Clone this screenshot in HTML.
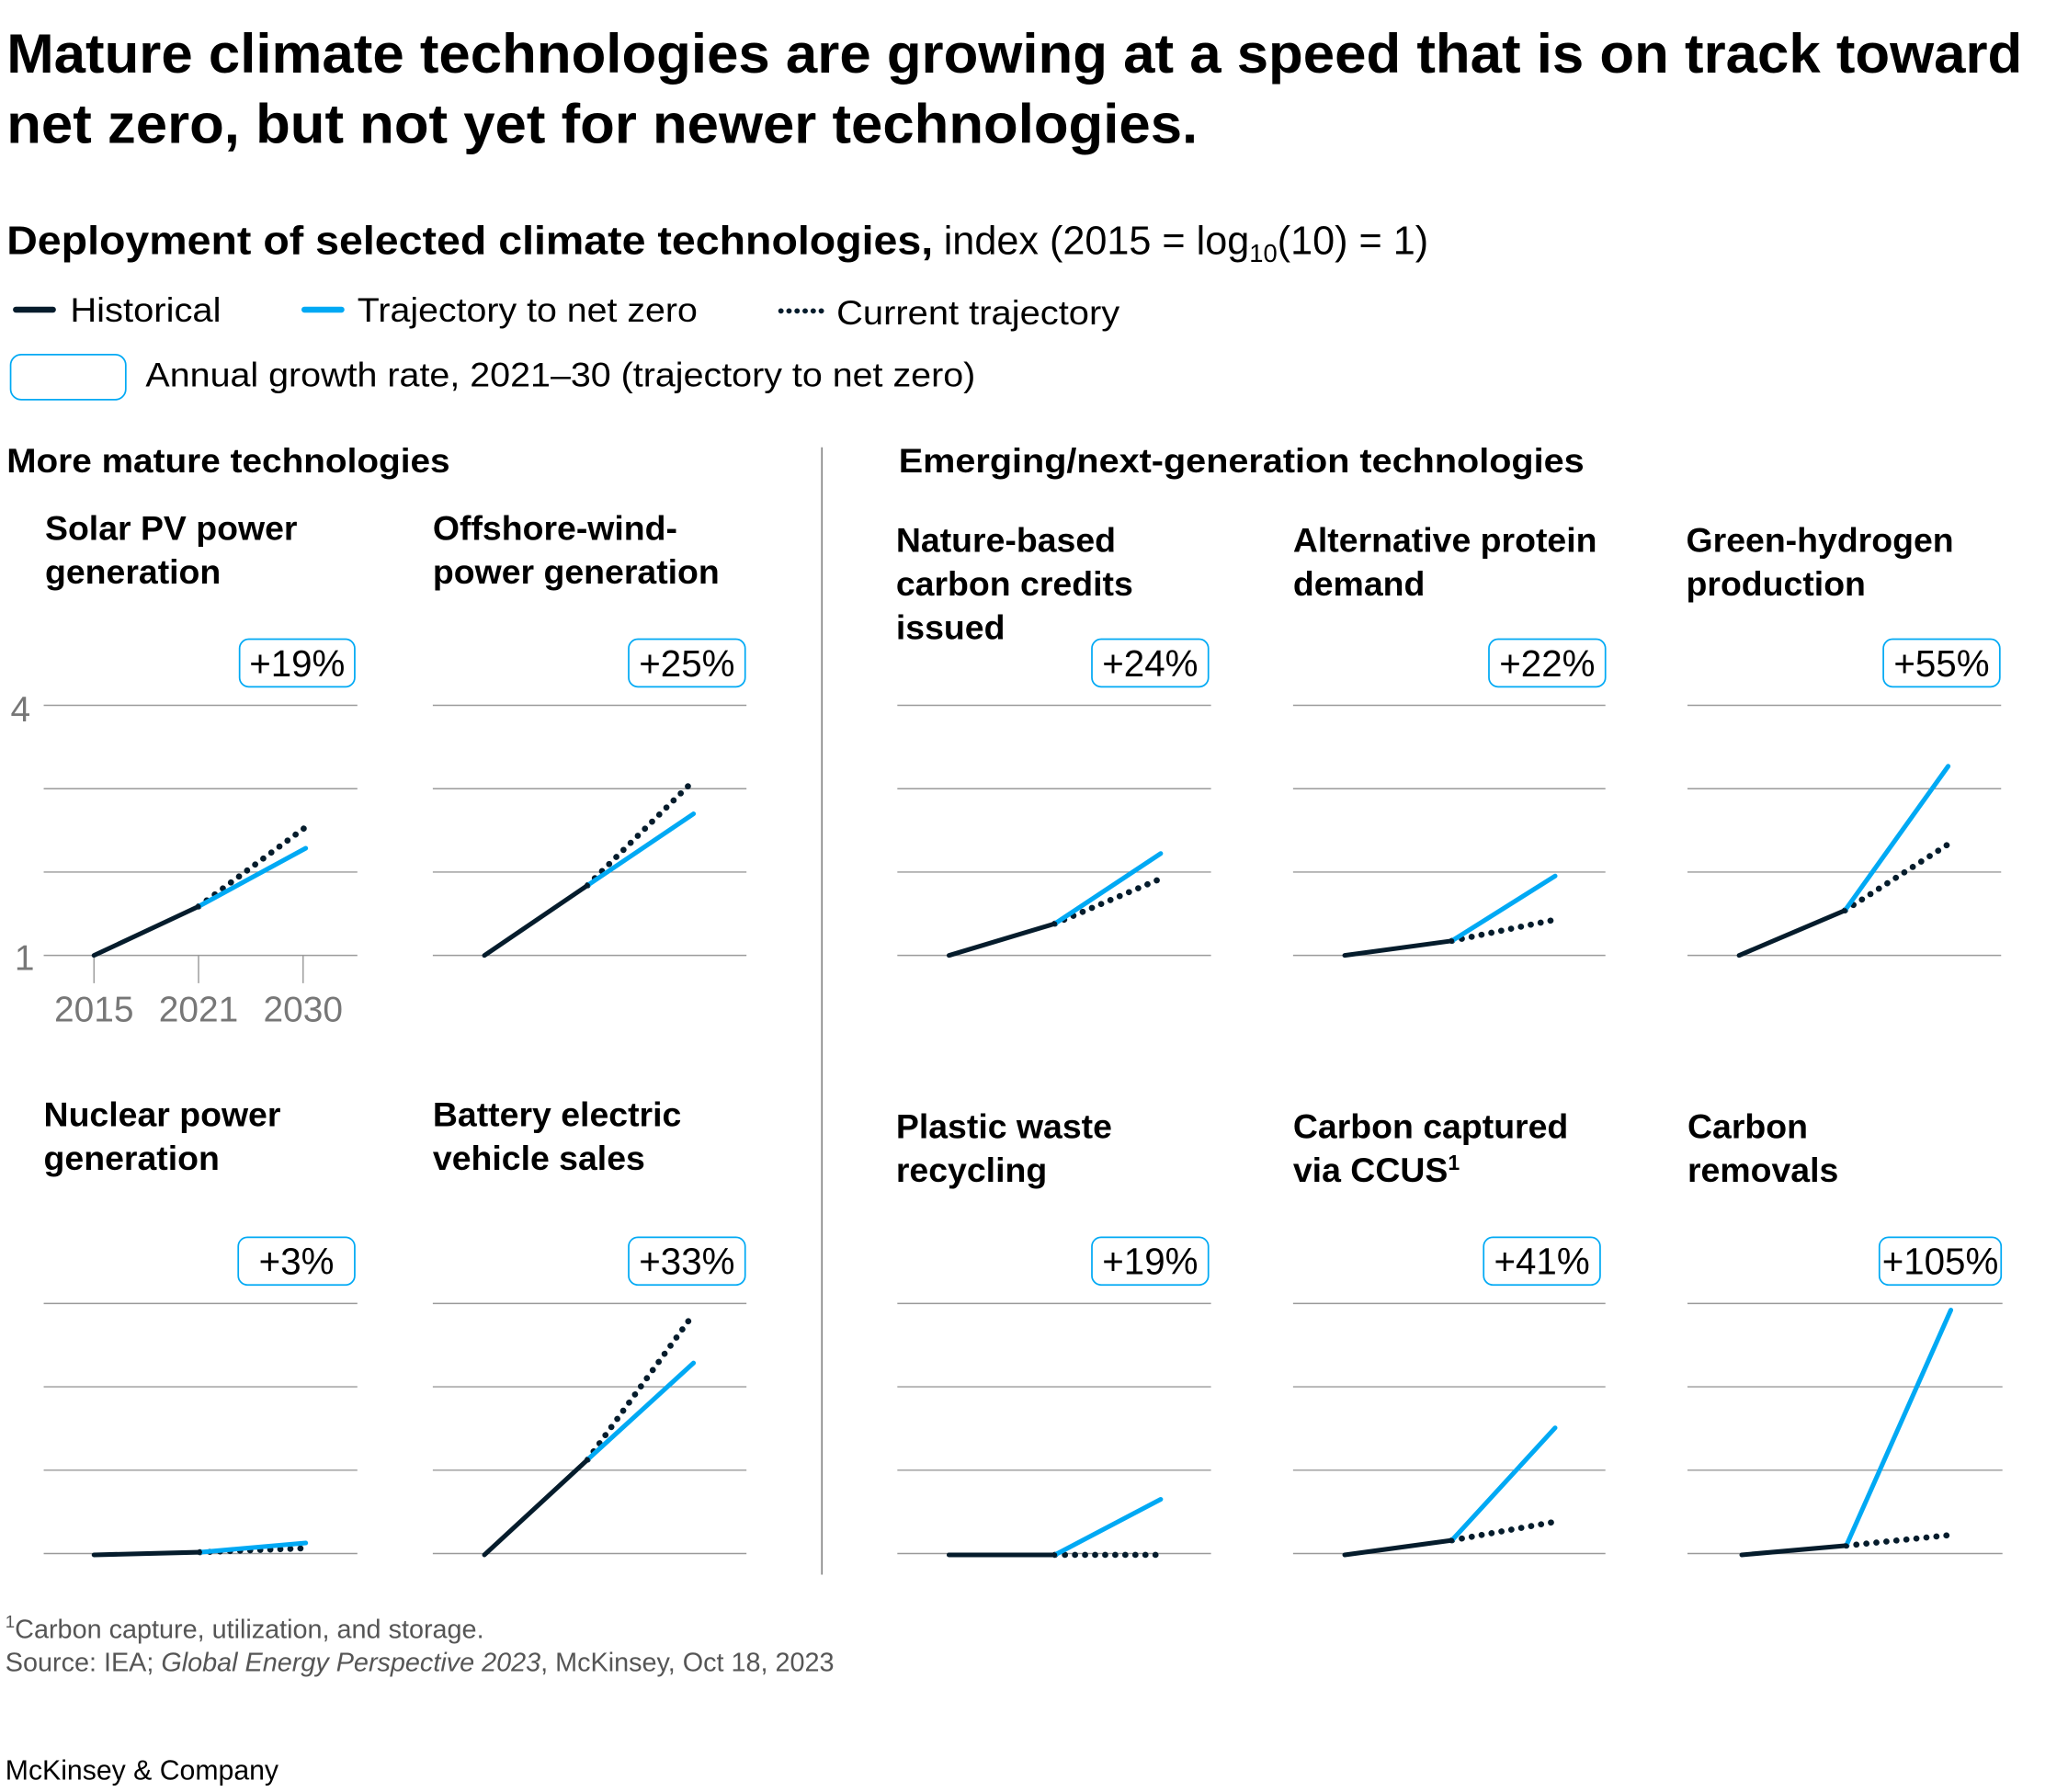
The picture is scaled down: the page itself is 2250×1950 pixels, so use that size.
<!DOCTYPE html>
<html><head><meta charset="utf-8"><style>
html,body{margin:0;padding:0;background:#fff}
svg{display:block}
text{font-family:"Liberation Sans",Arial,sans-serif}
.t{font-weight:bold;fill:#000}
.g{stroke:#9a9a9a;stroke-width:1}
.h{stroke:#051c2c;stroke-width:3.5;stroke-linecap:round;fill:none}
.b{stroke:#00a9f4;stroke-width:3.5;stroke-linecap:round;fill:none}
.d{stroke:#051c2c;stroke-width:4.6;stroke-linecap:round;stroke-dasharray:0.1 7.5;fill:none}
.bx{fill:#fff;stroke:#00a9f4;stroke-width:1.2}
.bt{font-size:28px;fill:#000}
.ct{font-size:26px;font-weight:bold;fill:#000}
</style></head><body>
<svg width="2250" height="1950" viewBox="0 0 1562.5 1354.2" xmlns="http://www.w3.org/2000/svg">
<text class="t" x="5" y="55" font-size="42" textLength="1523" lengthAdjust="spacingAndGlyphs">Mature climate technologies are growing at a speed that is on track toward</text>
<text class="t" x="5" y="108" font-size="42" textLength="900" lengthAdjust="spacingAndGlyphs">net zero, but not yet for newer technologies.</text>
<text class="t" x="5" y="192" font-size="30" textLength="700" lengthAdjust="spacingAndGlyphs">Deployment of selected climate technologies,</text>
<text x="713" y="192" font-size="30" fill="#000">index (2015 = log<tspan font-size="19" dy="6">10</tspan><tspan dy="-6">(10) = 1)</tspan></text>
<line x1="12" y1="234" x2="40" y2="234" stroke="#051c2c" stroke-width="4.5" stroke-linecap="round"/>
<text x="53" y="243" font-size="26" fill="#000" textLength="114" lengthAdjust="spacingAndGlyphs">Historical</text>
<line x1="230" y1="234" x2="258" y2="234" stroke="#00a9f4" stroke-width="4.5" stroke-linecap="round"/>
<text x="270" y="243" font-size="26" fill="#000" textLength="257" lengthAdjust="spacingAndGlyphs">Trajectory to net zero</text>
<line x1="590" y1="235" x2="622" y2="235" class="d" style="stroke-dasharray:0.1 6;stroke-width:4"/>
<text x="632" y="245" font-size="26" fill="#000" textLength="214" lengthAdjust="spacingAndGlyphs">Current trajectory</text>
<rect x="8" y="268" width="87" height="34" rx="8" class="bx"/>
<text x="110" y="292" font-size="26" fill="#000" textLength="627" lengthAdjust="spacingAndGlyphs">Annual growth rate, 2021–30 (trajectory to net zero)</text>
<text class="ct" x="5" y="357" textLength="335" lengthAdjust="spacingAndGlyphs">More mature technologies</text>
<text class="ct" x="679" y="357" textLength="518" lengthAdjust="spacingAndGlyphs">Emerging/next-generation technologies</text>
<line x1="621" y1="338" x2="621" y2="1190" stroke="#888" stroke-width="1.2"/>

<text class="ct" x="34" y="408">Solar PV power</text><text class="ct" x="34" y="441">generation</text>
<text class="ct" x="327" y="408">Offshore-wind-</text><text class="ct" x="327" y="441">power generation</text>
<text class="ct" x="677" y="417">Nature-based</text><text class="ct" x="677" y="450">carbon credits</text><text class="ct" x="677" y="483">issued</text>
<text class="ct" x="977" y="417">Alternative protein</text><text class="ct" x="977" y="450">demand</text>
<text class="ct" x="1274" y="417">Green-hydrogen</text><text class="ct" x="1274" y="450">production</text>
<text class="ct" x="33" y="851">Nuclear power</text><text class="ct" x="33" y="884">generation</text>
<text class="ct" x="327" y="851">Battery electric</text><text class="ct" x="327" y="884">vehicle sales</text>
<text class="ct" x="677" y="860">Plastic waste</text><text class="ct" x="677" y="893">recycling</text>
<text class="ct" x="977" y="860">Carbon captured</text><text class="ct" x="977" y="893">via CCUS<tspan font-size="16" dy="-9">1</tspan></text>
<text class="ct" x="1275" y="860">Carbon</text><text class="ct" x="1275" y="893">removals</text>

<g class="g">
<line x1="33" y1="533" x2="270" y2="533"/><line x1="33" y1="596" x2="270" y2="596"/><line x1="33" y1="659" x2="270" y2="659"/><line x1="33" y1="722" x2="270" y2="722"/>
<line x1="327" y1="533" x2="564" y2="533"/><line x1="327" y1="596" x2="564" y2="596"/><line x1="327" y1="659" x2="564" y2="659"/><line x1="327" y1="722" x2="564" y2="722"/>
<line x1="678" y1="533" x2="915" y2="533"/><line x1="678" y1="596" x2="915" y2="596"/><line x1="678" y1="659" x2="915" y2="659"/><line x1="678" y1="722" x2="915" y2="722"/>
<line x1="977" y1="533" x2="1213" y2="533"/><line x1="977" y1="596" x2="1213" y2="596"/><line x1="977" y1="659" x2="1213" y2="659"/><line x1="977" y1="722" x2="1213" y2="722"/>
<line x1="1275" y1="533" x2="1512" y2="533"/><line x1="1275" y1="596" x2="1512" y2="596"/><line x1="1275" y1="659" x2="1512" y2="659"/><line x1="1275" y1="722" x2="1512" y2="722"/>
<line x1="33" y1="985" x2="270" y2="985"/><line x1="33" y1="1048" x2="270" y2="1048"/><line x1="33" y1="1111" x2="270" y2="1111"/><line x1="33" y1="1174" x2="270" y2="1174"/>
<line x1="327" y1="985" x2="564" y2="985"/><line x1="327" y1="1048" x2="564" y2="1048"/><line x1="327" y1="1111" x2="564" y2="1111"/><line x1="327" y1="1174" x2="564" y2="1174"/>
<line x1="678" y1="985" x2="915" y2="985"/><line x1="678" y1="1048" x2="915" y2="1048"/><line x1="678" y1="1111" x2="915" y2="1111"/><line x1="678" y1="1174" x2="915" y2="1174"/>
<line x1="977" y1="985" x2="1213" y2="985"/><line x1="977" y1="1048" x2="1213" y2="1048"/><line x1="977" y1="1111" x2="1213" y2="1111"/><line x1="977" y1="1174" x2="1213" y2="1174"/>
<line x1="1275" y1="985" x2="1513" y2="985"/><line x1="1275" y1="1048" x2="1513" y2="1048"/><line x1="1275" y1="1111" x2="1513" y2="1111"/><line x1="1275" y1="1174" x2="1513" y2="1174"/>
<line x1="71" y1="722" x2="71" y2="743"/><line x1="150" y1="722" x2="150" y2="743"/><line x1="229" y1="722" x2="229" y2="743"/>
</g>
<text x="8" y="545" font-size="27" fill="#777">4</text>
<text x="11" y="733" font-size="27" fill="#777">1</text>
<text x="71" y="772" font-size="27" fill="#777" text-anchor="middle">2015</text>
<text x="150" y="772" font-size="27" fill="#777" text-anchor="middle">2021</text>
<text x="229" y="772" font-size="27" fill="#777" text-anchor="middle">2030</text>

<rect x="181" y="483" width="87" height="36" rx="7" class="bx"/><text class="bt" x="224.5" y="511" text-anchor="middle">+19%</text>
<rect x="475" y="483" width="88" height="36" rx="7" class="bx"/><text class="bt" x="519" y="511" text-anchor="middle">+25%</text>
<rect x="825" y="483" width="88" height="36" rx="7" class="bx"/><text class="bt" x="869" y="511" text-anchor="middle">+24%</text>
<rect x="1125" y="483" width="88" height="36" rx="7" class="bx"/><text class="bt" x="1169" y="511" text-anchor="middle">+22%</text>
<rect x="1423" y="483" width="88" height="36" rx="7" class="bx"/><text class="bt" x="1467" y="511" text-anchor="middle">+55%</text>
<rect x="180" y="935" width="88" height="36" rx="7" class="bx"/><text class="bt" x="224" y="963" text-anchor="middle">+3%</text>
<rect x="475" y="935" width="88" height="36" rx="7" class="bx"/><text class="bt" x="519" y="963" text-anchor="middle">+33%</text>
<rect x="825" y="935" width="88" height="36" rx="7" class="bx"/><text class="bt" x="869" y="963" text-anchor="middle">+19%</text>
<rect x="1121" y="935" width="88" height="36" rx="7" class="bx"/><text class="bt" x="1165" y="963" text-anchor="middle">+41%</text>
<rect x="1420" y="935" width="92" height="36" rx="7" class="bx"/><text class="bt" x="1466" y="963" text-anchor="middle">+105%</text>

<polyline class="d" points="150,685 231,625"/><polyline class="b" points="150,685 231,641"/><polyline class="h" points="71,722 150,685"/>
<polyline class="d" points="444,669 524,590"/><polyline class="b" points="444,669 524,615"/><polyline class="h" points="366,722 444,669"/>
<polyline class="d" points="797,698 877,664"/><polyline class="b" points="797,698 877,645"/><polyline class="h" points="717,722 797,698"/>
<polyline class="d" points="1097,711 1175,695"/><polyline class="b" points="1097,711 1175,662"/><polyline class="h" points="1016,722 1097,711"/>
<polyline class="d" points="1394,688 1472,638"/><polyline class="b" points="1394,688 1472,579"/><polyline class="h" points="1314,722 1394,688"/>
<polyline class="d" points="151,1173 231,1170"/><polyline class="b" points="151,1173 231,1166"/><polyline class="h" points="71,1175 151,1173"/>
<polyline class="d" points="444,1103 524,993"/><polyline class="b" points="444,1103 524,1030"/><polyline class="h" points="366,1175 444,1103"/>
<polyline class="d" points="797,1175 877,1175"/><polyline class="b" points="797,1175 877,1133"/><polyline class="h" points="717,1175 797,1175"/>
<polyline class="d" points="1097,1164 1175,1150"/><polyline class="b" points="1097,1164 1175,1079"/><polyline class="h" points="1016,1175 1097,1164"/>
<polyline class="d" points="1395,1168 1474,1160"/><polyline class="b" points="1395,1168 1474,990"/><polyline class="h" points="1316,1175 1395,1168"/>

<text x="4" y="1238" font-size="20" fill="#555"><tspan font-size="13" dy="-8">1</tspan><tspan dy="8">Carbon capture, utilization, and storage.</tspan></text>
<text x="4" y="1263" font-size="20" fill="#555">Source: IEA; <tspan font-style="italic">Global Energy Perspective 2023</tspan>, McKinsey, Oct 18, 2023</text>
<text x="4" y="1345" font-size="21" fill="#000">McKinsey &amp; Company</text>
</svg>
</body></html>
